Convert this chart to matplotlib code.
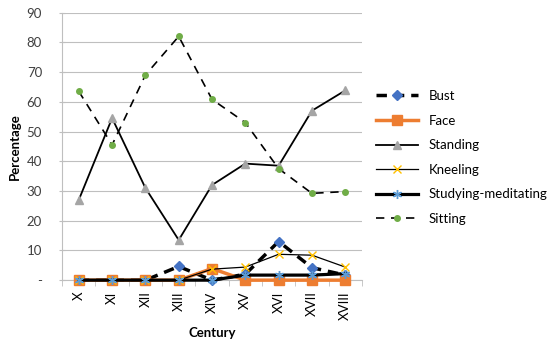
import matplotlib
matplotlib.use("Agg")
import matplotlib.pyplot as plt
import numpy as np

plt.rcParams["font.family"] = ["Lato", "DejaVu Sans"]

centuries = ["X", "XI", "XII", "XIII", "XIV", "XV", "XVI", "XVII", "XVIII"]

bust = [0, 0, 0, 4.6, 0, 2.0, 13.0, 4.2, 1.7]
face = [0, 0, 0, 0, 3.9, 0, 0, 0, 0]
standing = [27.0, 54.5, 31.0, 13.5, 32.0, 39.2, 38.5, 57.0, 63.8]
kneeling = [0, 0, 0, 0, 3.7, 4.4, 8.7, 8.4, 4.4]
studying = [0, 0, 0, 0, 0, 1.7, 1.7, 1.7, 2.2]
sitting = [63.5, 45.5, 69.0, 82.0, 60.8, 53.0, 37.5, 29.2, 29.8]

x = np.arange(len(centuries))

fig = plt.figure(figsize=(5.5, 3.4), dpi=100)
ax = fig.add_axes([0.113, 0.176, 0.545, 0.787])

ax.plot(x, bust, color="black", lw=2.5, ls=(0, (3, 2)), marker="D", ms=5.5,
        mfc="#4472C4", mec="#4472C4", label="Bust", zorder=3, clip_on=False)
ax.plot(x, face, color="#ED7D31", lw=2.5, marker="s", ms=6.5,
        mfc="#ED7D31", mec="#ED7D31", label="Face", zorder=3.1, clip_on=False)
ax.plot(x, standing, color="black", lw=1.3, marker="^", ms=5.5,
        mfc="#A5A5A5", mec="#A5A5A5", label="Standing", zorder=3.2, clip_on=False)
ax.plot(x, kneeling, color="black", lw=0.9, marker="x", ms=5.5,
        mec="#FFC000", mew=1.0, label="Kneeling", zorder=3.3, clip_on=False)
ax.plot(x, studying, color="black", lw=2.3, marker=(6, 2, 0), ms=6.5,
        mec="#5B9BD5", mew=1.0, label="Studying-meditating", zorder=3.4, clip_on=False)
ax.plot(x, sitting, color="black", lw=1.2, ls=(0, (5, 4)), marker="o", ms=4,
        mfc="#70AD47", mec="#70AD47", label="Sitting", zorder=3.5, clip_on=False)

ax.set_xlim(-0.5, len(centuries) - 0.5)
ax.set_ylim(0, 90)
ax.set_yticks(np.arange(0, 91, 10))
ax.set_yticklabels(["-"] + [str(v) for v in range(10, 91, 10)], fontsize=9.5, color="#404040")
ax.set_xticks(x)
ax.set_xticklabels(centuries, rotation=90, fontsize=9.5)
ax.tick_params(axis="y", length=5, direction="inout", color="#BFBFBF", pad=12)
ax.tick_params(axis="x", length=0, pad=8)
ax.set_xticks(np.arange(-0.5, len(centuries), 1), minor=True)
ax.tick_params(axis="x", which="minor", length=4, color="#BFBFBF")

ax.grid(axis="y", color="#BFBFBF", lw=0.8)
ax.set_axisbelow(True)
for s in ["top", "right"]:
    ax.spines[s].set_visible(False)
ax.spines["left"].set_color("#BFBFBF")
ax.spines["bottom"].set_color("#BFBFBF")

ax.set_ylabel("Percentage", fontsize=9.5, fontweight="bold", labelpad=4)
ax.set_xlabel("Century", fontsize=9.5, fontweight="bold", labelpad=5)

leg = ax.legend(loc="upper left", bbox_to_anchor=(1.03, 0.73), frameon=False,
                fontsize=9.5, handlelength=3.2, labelspacing=0.95, borderaxespad=0)

fig.savefig("out.png", dpi=100)
